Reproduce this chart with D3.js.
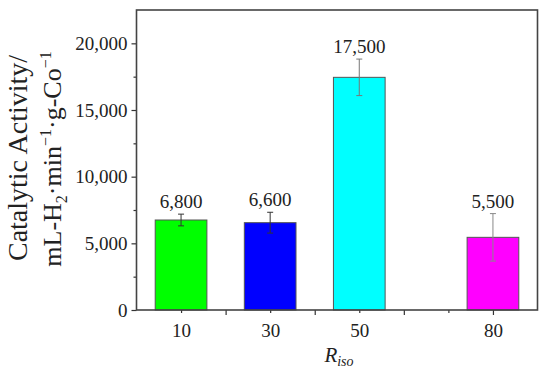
<!DOCTYPE html>
<html>
<head>
<meta charset="utf-8">
<script src="https://cdn.jsdelivr.net/npm/d3@7"></script>
<style>
  body { margin: 0; background: #fff; }
  text { font-family: "Liberation Serif", "Times New Roman", serif; fill: #222; }
</style>
</head>
<body>
<div id="chart-area"></div>
<script>
// data
var categories = [10, 30, 50, 80];
var values = [6750, 6550, 17450, 5450];
var errors = [440, 780, 1370, 1780];
var valueLabels = ["6,800", "6,600", "17,500", "5,500"];
var yTicks = [0, 5000, 10000, 15000, 20000];
var yMinor = [2500, 7500, 12500, 17500];
var xMajor = [20, 40, 60, 80];
var xMinor = [10, 30, 50, 70];

var barColors = ["#00ff00", "#0000ff", "#00ffff", "#ff00ff"];
var errColors = ["#333", "#333", "#777", "#888"];

var width = 550, height = 378;
var plot = { left: 136.5, right: 537.5, top: 10, bottom: 310 };

var svg = d3.select("#chart-area")
    .append("svg")
        .attr("width", width)
        .attr("height", height);

var x = d3.scaleLinear()
    .domain([0, 90])
    .range([plot.left, plot.right]);

var y = d3.scaleLinear()
    .domain([0, 22500])
    .range([plot.bottom, plot.top]);

var barW = x(11.6) - x(0);

// bars
svg.selectAll("rect.bar")
        .data(values)
    .enter()
        .append("rect")
        .attr("class", "bar")
        .attr("x", function(d, i){ return x(categories[i]) - barW / 2; })
        .attr("y", function(d){ return y(d); })
        .attr("width", barW)
        .attr("height", function(d){ return y(0) - y(d); })
        .attr("fill", function(d, i){ return barColors[i]; })
        .attr("stroke", "#555")
        .attr("stroke-width", 1);

// error bars
var eb = svg.selectAll("g.err")
        .data(values)
    .enter()
        .append("g")
        .attr("class", "err")
        .attr("stroke", function(d, i){ return errColors[i]; })
        .attr("stroke-width", 1);

eb.append("line")
    .attr("x1", function(d, i){ return x(categories[i]); })
    .attr("x2", function(d, i){ return x(categories[i]); })
    .attr("y1", function(d, i){ return y(d + errors[i]); })
    .attr("y2", function(d, i){ return y(d - errors[i]); });

[1, -1].forEach(function(s){
    eb.append("line")
        .attr("x1", function(d, i){ return x(categories[i]) - 3; })
        .attr("x2", function(d, i){ return x(categories[i]) + 3; })
        .attr("y1", function(d, i){ return y(d + s * errors[i]); })
        .attr("y2", function(d, i){ return y(d + s * errors[i]); });
});

// value labels
svg.selectAll("text.val")
        .data(values)
    .enter()
        .append("text")
        .attr("class", "val")
        .attr("x", function(d, i){ return x(categories[i]); })
        .attr("y", function(d, i){ return y(d + errors[i]) - 6; })
        .attr("text-anchor", "middle")
        .style("font-size", "19px")
        .text(function(d, i){ return valueLabels[i]; });

// y axis
var yAxis = svg.append("g")
    .attr("transform", "translate(" + plot.left + ",0)")
    .call(d3.axisLeft(y).tickValues(yTicks).tickSize(5).tickPadding(4)
        .tickFormat(d3.format(",")));
yAxis.selectAll("text").style("font-size", "19px").attr("fill", "#222");

svg.append("g")
    .attr("transform", "translate(" + plot.left + ",0)")
    .call(d3.axisLeft(y).tickValues(yMinor).tickSize(3).tickFormat(""));

// x axis ticks
svg.append("g")
    .attr("transform", "translate(0," + plot.bottom + ")")
    .call(d3.axisBottom(x).tickValues(xMajor).tickSize(5).tickFormat(""));
svg.append("g")
    .attr("transform", "translate(0," + plot.bottom + ")")
    .call(d3.axisBottom(x).tickValues(xMinor).tickSize(3).tickFormat(""));
var xLabels = svg.append("g")
    .attr("transform", "translate(0," + plot.bottom + ")")
    .call(d3.axisBottom(x).tickValues(categories).tickSize(0).tickPadding(13.5)
        .tickFormat(d3.format("d")));
xLabels.selectAll("text").style("font-size", "19px").attr("fill", "#222");

svg.selectAll(".domain").remove();
svg.selectAll(".tick line").attr("stroke", "#333").attr("stroke-width", 1.2);

// frame
svg.append("rect")
    .attr("x", plot.left)
    .attr("y", plot.top)
    .attr("width", plot.right - plot.left)
    .attr("height", plot.bottom - plot.top)
    .attr("fill", "none")
    .attr("stroke", "#444")
    .attr("stroke-width", 1.6);

// x title
var xt = svg.append("text")
    .attr("x", (plot.left + plot.right) / 2 + 2)
    .attr("y", 362)
    .attr("text-anchor", "middle")
    .style("font-size", "21px")
    .style("font-style", "italic");
xt.append("tspan").text("R");
xt.append("tspan").attr("dy", 4).style("font-size", "14px").text("iso");

// y title
var yt = svg.append("g")
    .attr("transform", "translate(27,158) rotate(-90)");
yt.append("text")
    .attr("text-anchor", "middle")
    .style("font-size", "28px")
    .text("Catalytic Activity/");
var l2 = yt.append("text")
    .attr("x", -1)
    .attr("y", 34)
    .attr("text-anchor", "middle")
    .style("font-size", "26px");
l2.append("tspan").text("mL-H");
l2.append("tspan").attr("dy", 6).style("font-size", "16px").text("2");
l2.append("tspan").attr("dy", -6).text("\u00b7min");
l2.append("tspan").attr("dy", -10).style("font-size", "16px").text("\u22121");
l2.append("tspan").attr("dy", 10).text("\u00b7g-Co");
l2.append("tspan").attr("dy", -10).style("font-size", "16px").text("\u22121");
</script>
</body>
</html>
